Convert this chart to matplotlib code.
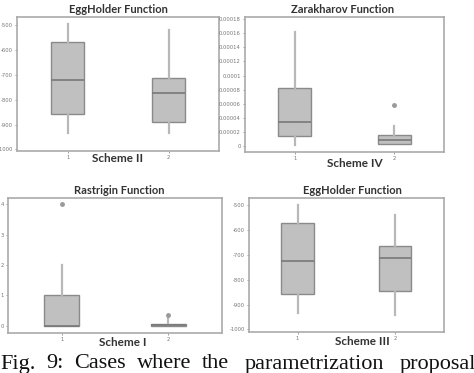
import matplotlib
matplotlib.use("Agg")
import matplotlib.pyplot as plt

# panel data: one entry per box (scheme run 1, run 2)
titles = ["EggHolder Function", "Zarakharov Function", "Rastrigin Function", "EggHolder Function"]
schemes = ["Scheme II", "Scheme IV", "Scheme I", "Scheme III"]

eh2_lo = [-933, -933]
eh2_q1 = [-856, -891]
eh2_med = [-721, -772]
eh2_q3 = [-570, -712]
eh2_hi = [-496, -520]
eh2_out = [[], []]

zk_lo = [0.000001, 0.0000024]
zk_q1 = [0.0000134, 0.0000024]
zk_med = [0.0000342, 0.0000085]
zk_q3 = [0.0000826, 0.0000157]
zk_hi = [0.0001615, 0.000028]
zk_out = [[], [0.0000575]]

ra_lo = [0.0, 0.0]
ra_q1 = [0.0, 0.0]
ra_med = [0.0, 0.03]
ra_q3 = [1.02, 0.06]
ra_hi = [2.0, 0.25]
ra_out = [[4.0], [0.35]]

eh3_lo = [-935, -942]
eh3_q1 = [-857, -845]
eh3_med = [-724, -714]
eh3_q3 = [-571, -663]
eh3_hi = [-500, -540]
eh3_out = [[], []]

panels = [
    (eh2_lo, eh2_q1, eh2_med, eh2_q3, eh2_hi, eh2_out),
    (zk_lo, zk_q1, zk_med, zk_q3, zk_hi, zk_out),
    (ra_lo, ra_q1, ra_med, ra_q3, ra_hi, ra_out),
    (eh3_lo, eh3_q1, eh3_med, eh3_q3, eh3_hi, eh3_out),
]

yticks = [
    [-500, -600, -700, -800, -900, -1000],
    [0.00018, 0.00016, 0.00014, 0.00012, 0.0001, 0.00008, 0.00006, 0.00004, 0.00002, 0.0],
    [4, 3, 2, 1, 0],
    [-500, -600, -700, -800, -900, -1000],
]
ytick_labels = [
    ["-500", "-600", "-700", "-800", "-900", "-1000"],
    ["0.00018", "0.00016", "0.00014", "0.00012", "0.0001", "0.00008",
     "0.00006", "0.00004", "0.00002", "0"],
    ["4", "3", "2", "1", "0"],
    ["-500", "-600", "-700", "-800", "-900", "-1000"],
]
ylims = [(-1005, -469), (-0.0000094, 0.0001838), (-0.23, 4.22), (-1009, -473)]
rects = [
    [0.0365, 0.596, 0.426, 0.3576],
    [0.517, 0.5917, 0.420, 0.3635],
    [0.0175, 0.108, 0.450, 0.362],
    [0.525, 0.1107, 0.411, 0.3576],
]
title_x = [0.5, 0.49, 0.52, 0.533]
label_xy = [(0.495, -0.062), (0.553, -0.079), (0.535, -0.076), (0.585, -0.075)]

fig = plt.figure(figsize=(4.74, 3.73), dpi=100)

for i, (lo, q1, med, q3, hi, out) in enumerate(panels):
    ax = fig.add_axes(rects[i])
    stats = []
    for k in range(2):
        stats.append(dict(whislo=lo[k], q1=q1[k], med=med[k], q3=q3[k],
                          whishi=hi[k], fliers=out[k]))
    ax.bxp(stats, positions=[1, 2], widths=0.33, patch_artist=True,
           showcaps=False,
           boxprops=dict(facecolor="#c0c0c0", edgecolor="#8a8a8a", linewidth=1.0),
           medianprops=dict(color="#787878", linewidth=1.2),
           whiskerprops=dict(color="#b8b8b8", linewidth=1.6),
           flierprops=dict(marker="o", markersize=2.5, markerfacecolor="#9a9a9a",
                           markeredgecolor="#9a9a9a"))
    ax.set_xlim(0.5, 2.5)
    ax.set_ylim(*ylims[i])
    ax.set_yticks(yticks[i])
    ax.set_yticklabels(ytick_labels[i])
    ax.set_xticks([1, 2])
    ax.set_xticklabels(["1", "2"])
    ax.tick_params(labelsize=3.8, colors="#777777", length=1.5, width=0.5, pad=1.5)
    for s in ax.spines.values():
        s.set_color("#aaaaaa")
        s.set_linewidth(1.2)
    ax.set_title(titles[i], fontsize=8, fontweight="bold", family="Lato",
                 color="#333333", pad=3, x=title_x[i])
    ax.text(label_xy[i][0], label_xy[i][1], schemes[i], transform=ax.transAxes,
            ha="center", va="center", fontsize=8.5, fontweight="bold",
            family="Lato", color="#333333")

# caption (cropped from the page, justified words)
words = ["Fig.", "9:", "Cases", "where", "the", "parametrization", "proposal"]
word_x = [0, 46, 74, 137, 202, 245, 400]
for w, x in zip(words, word_x):
    fig.text(x / 474, 1 - 368.5 / 373, w, fontsize=16, family="Liberation Serif",
             ha="left", va="baseline", color="#111111")

fig.savefig("out.png", dpi=100)
